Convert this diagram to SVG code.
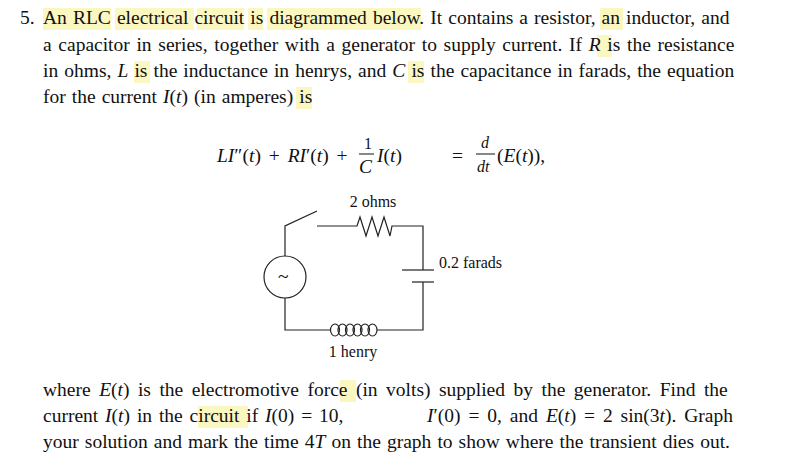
<svg xmlns="http://www.w3.org/2000/svg" width="796" height="467" viewBox="0 0 796 467">
<style>
text{font-family:"Liberation Serif","Times New Roman",serif;font-size:19.5px;fill:#111}
.i{font-style:italic}
.h{fill:#fbf7c0}
.w{stroke:#222;stroke-width:1.2;fill:none}
.s{font-size:16px}
</style>
<rect width="796" height="467" fill="#fff"/>
<g id="highlights">
<rect class="h" x="43" y="8" width="68" height="22"/><rect class="h" x="115" y="8" width="79" height="22"/><rect class="h" x="197" y="8" width="47" height="22"/><rect class="h" x="248" y="8" width="15" height="22"/><rect class="h" x="267" y="8" width="154" height="22"/><rect class="h" x="600" y="8" width="23" height="22"/>
<rect class="h" x="597" y="35" width="15" height="22"/><rect class="h" x="134" y="61" width="16" height="22"/><rect class="h" x="408" y="61" width="16" height="22"/><rect class="h" x="296" y="87" width="16" height="22"/>
<rect class="h" x="340" y="380" width="16" height="22"/><rect class="h" x="198" y="406" width="50" height="22"/>
</g>
<g id="text">
<text x="20" y="24">5.</text>
<text x="43" y="24" word-spacing="1.2">An RLC electrical circuit is diagrammed below. It contains a resistor, an inductor, and</text>
<text x="43" y="51" word-spacing="1.8">a capacitor in series, together with a generator to supply current. If <tspan class="i">R</tspan> is the resistance</text>
<text x="43" y="77" word-spacing="1.2">in ohms, <tspan class="i">L</tspan> is the inductance in henrys, and <tspan class="i">C</tspan> is the capacitance in farads, the equation</text>
<text x="43" y="103" word-spacing="1.2">for the current <tspan class="i">I</tspan>(<tspan class="i">t</tspan>) (in amperes) is</text>
<text x="43" y="396" word-spacing="3.6">where <tspan class="i">E</tspan>(<tspan class="i">t</tspan>) is the electromotive force (in volts) supplied by the generator. Find the</text>
<text x="43" y="422" word-spacing="2">current <tspan class="i">I</tspan>(<tspan class="i">t</tspan>) in the circuit if <tspan class="i">I</tspan>(0) = 10,</text>
<text x="733" y="422" word-spacing="3" text-anchor="end"><tspan class="i">I</tspan>′(0) = 0, and <tspan class="i">E</tspan>(<tspan class="i">t</tspan>) = 2 sin(3<tspan class="i">t</tspan>). Graph</text>
<text x="43" y="448" word-spacing="1.2">your solution and mark the time 4<tspan class="i">T</tspan> on the graph to show where the transient dies out.</text>
</g>
<g id="equation">
<text x="217" y="162" font-size="20.5" word-spacing="3"><tspan class="i">LI</tspan>″(<tspan class="i">t</tspan>) + <tspan class="i">RI</tspan>′(<tspan class="i">t</tspan>) +</text>
<text x="364" y="149" class="s">1</text>
<line x1="359" y1="154" x2="374" y2="154" stroke="#111" stroke-width="1"/>
<text x="359" y="173" class="i">C</text>
<text x="377" y="162" font-size="20.5"><tspan class="i">I</tspan>(<tspan class="i">t</tspan>)</text>
<text x="452" y="162" font-size="20.5">=</text>
<text x="481" y="148" class="i s">d</text>
<line x1="476" y1="154" x2="495" y2="154" stroke="#111" stroke-width="1"/>
<text x="477" y="172" class="i s">dt</text>
<text x="497" y="162" font-size="21">(<tspan class="i">E</tspan>(<tspan class="i">t</tspan>)),</text>
</g>
<g id="connectors">
<path class="w" d="M285,256 V226 L317,211"/>
<path class="w" d="M317,226 H357 L360,217 L366,236 L372,217 L378,236 L384,217 L390,236 L392,226 H423 V270"/>
<path class="w" d="M423,282 V330 H377"/>
<path class="w" d="M330,330 H285 V298"/>
</g>
<g id="source"><circle class="w" cx="285" cy="277" r="21"/><text x="278" y="283" font-size="16">~</text></g>
<g id="resistor"><text x="373" y="207" text-anchor="middle" class="s">2 ohms</text></g>
<g id="capacitor"><line class="w" x1="402" y1="270" x2="434" y2="270"/><line class="w" x1="412" y1="282" x2="434" y2="282"/><text x="439" y="268" class="s">0.2 farads</text></g>
<g id="inductor" class="w">
<ellipse cx="335" cy="330" rx="4.5" ry="6"/><ellipse cx="342.5" cy="330" rx="4.5" ry="6"/><ellipse cx="350" cy="330" rx="4.5" ry="6"/><ellipse cx="357.5" cy="330" rx="4.5" ry="6"/><ellipse cx="365" cy="330" rx="4.5" ry="6"/><ellipse cx="372.5" cy="330" rx="4.5" ry="6"/>
<text x="353" y="357" text-anchor="middle" class="s" style="stroke:none">1 henry</text></g>
</svg>
